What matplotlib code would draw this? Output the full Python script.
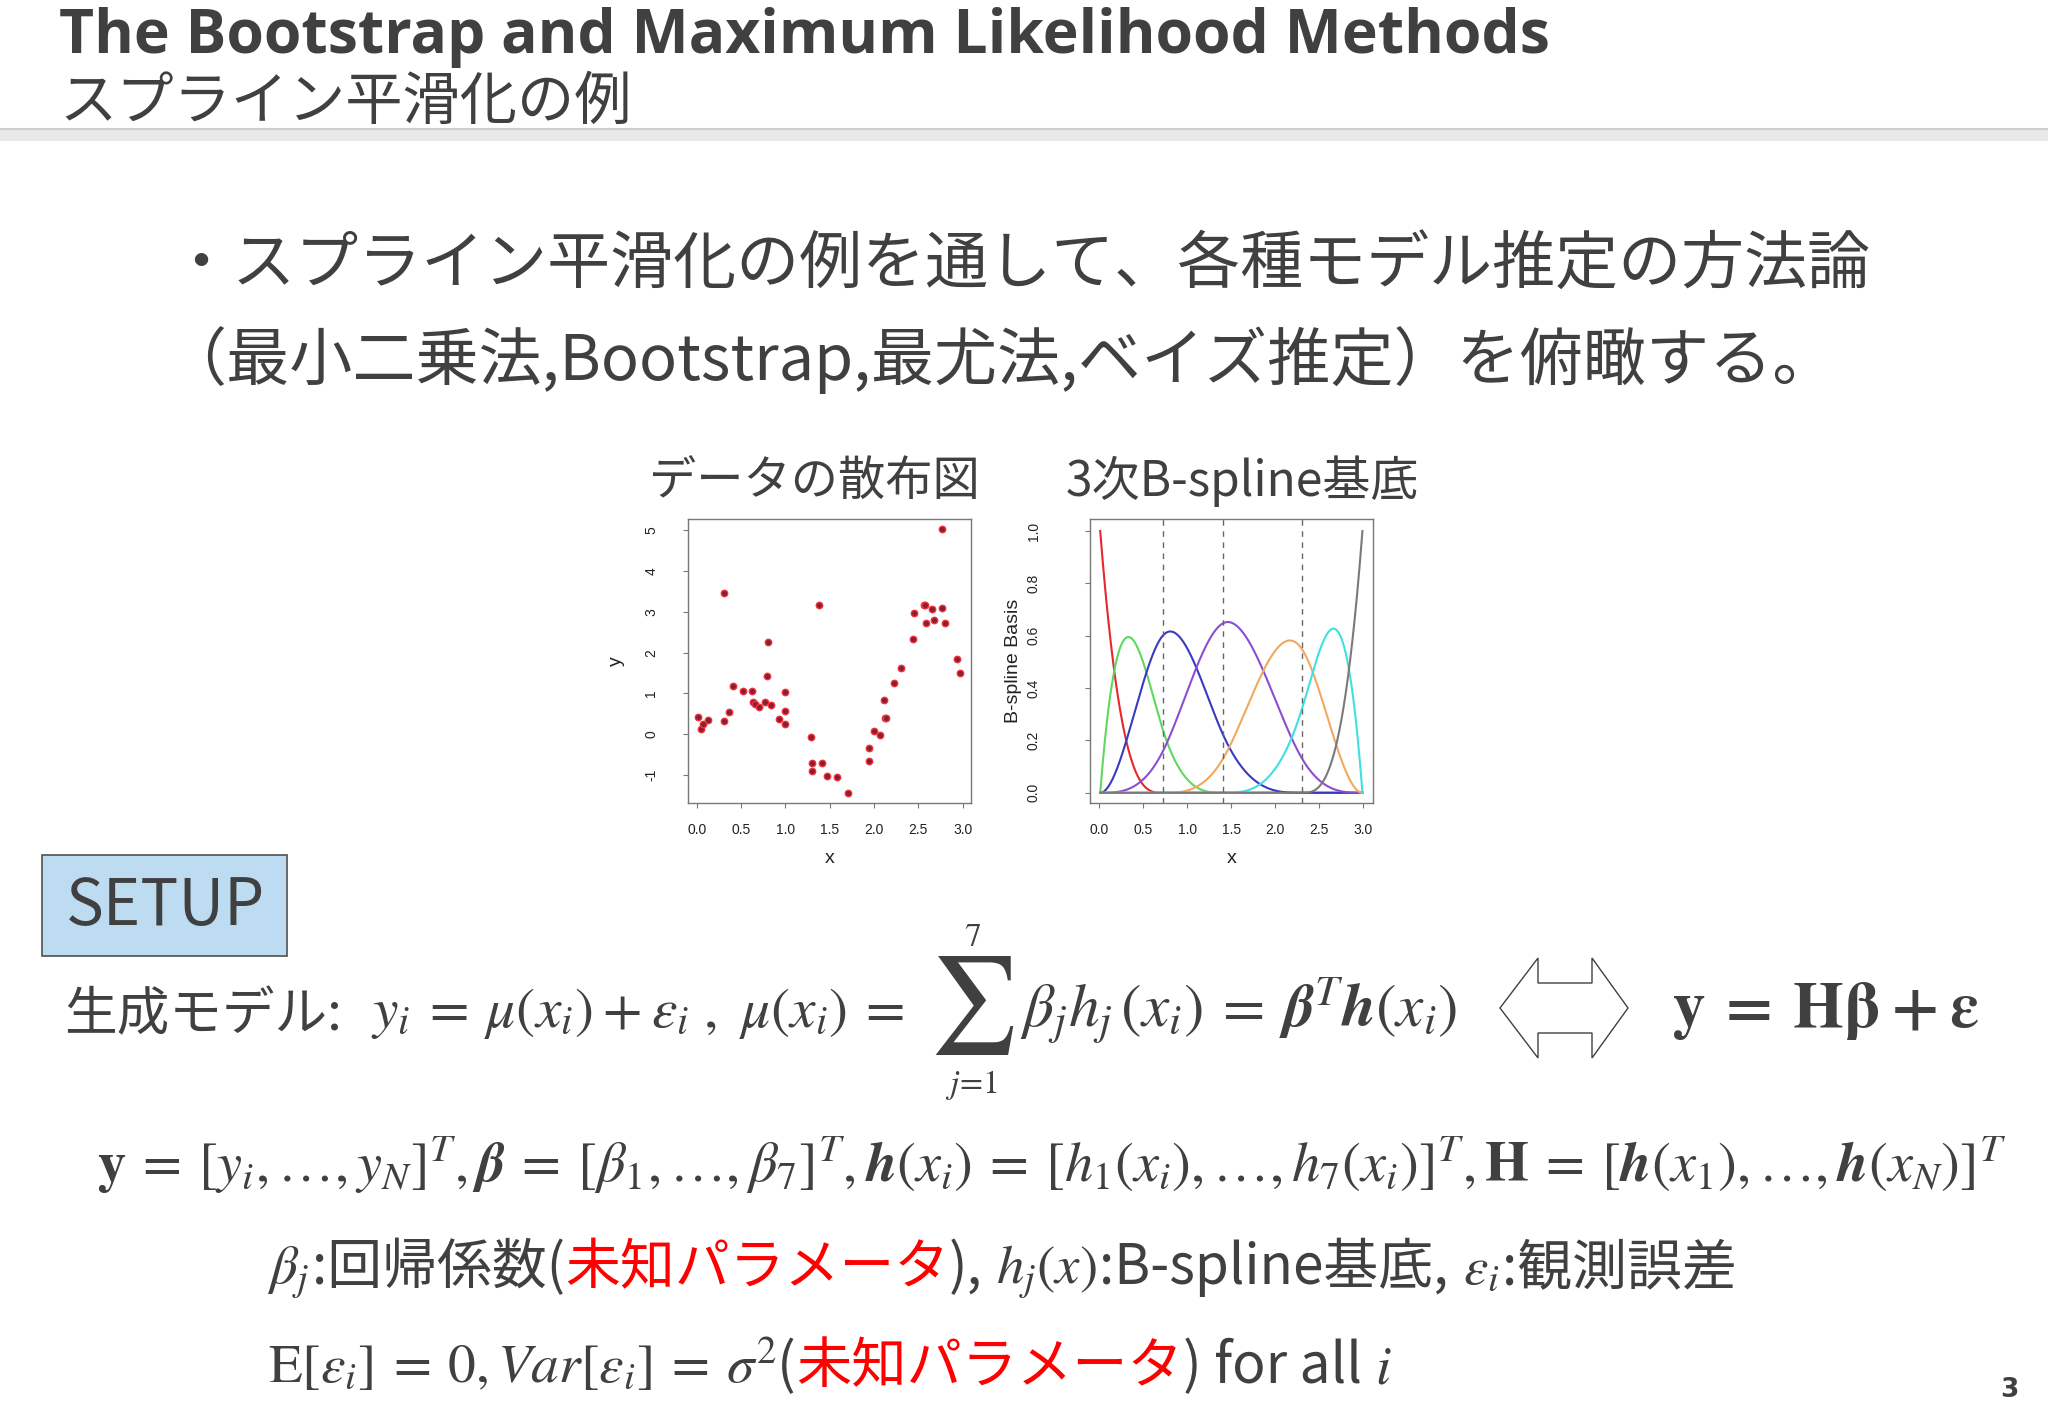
import numpy as np
import matplotlib
matplotlib.use("Agg")
import matplotlib.pyplot as plt
from matplotlib.patches import Rectangle, Polygon

plt.rcParams['mathtext.fontset'] = 'stix'
JP = ['Noto Sans CJK JP', 'DejaVu Sans']
GRAY = '#404040'
RED = '#ff0000'

# scatter data
x_data = [0.01, 0.045, 0.075, 0.13, 0.31, 0.31, 0.36, 0.41, 0.52, 0.62,
          0.64, 0.66, 0.70, 0.77, 0.79, 0.80, 0.84, 0.93, 1.00, 1.00,
          1.00, 1.29, 1.30, 1.30, 1.38, 1.41, 1.47, 1.58, 1.71, 1.94,
          1.94, 2.00, 2.07, 2.11, 2.12, 2.13, 2.22, 2.30, 2.44, 2.45,
          2.56, 2.58, 2.59, 2.65, 2.68, 2.77, 2.77, 2.80, 2.94, 2.97]
y_data = [0.42, 0.12, 0.25, 0.36, 3.46, 0.33, 0.54, 1.18, 1.07, 1.05,
          0.78, 0.74, 0.68, 0.78, 1.44, 2.27, 0.73, 0.38, 0.57, 1.03,
          0.25, -0.07, -0.69, -0.89, 3.16, -0.69, -1.01, -1.05, -1.43, -0.66,
          -0.34, 0.07, -0.02, 0.83, 0.39, 0.40, 1.25, 1.62, 2.34, 2.96,
          3.16, 3.16, 2.72, 3.06, 2.79, 5.02, 3.08, 2.72, 1.84, 1.49]

# cubic B-spline basis (right panel): boundary + interior knots
bs_range = [0.01, 2.99]
bs_knots = [0.72, 1.41, 2.30]
bs_colors = ['#e8262e', '#5fd85f', '#3a3ac0', '#8a4fd0', '#f2a860', '#3fe0e0', '#7a7a7a']

x_ticks = [0.0, 0.5, 1.0, 1.5, 2.0, 2.5, 3.0]
y_ticks_scatter = [-1, 0, 1, 2, 3, 4, 5]
y_ticks_basis = [0.0, 0.2, 0.4, 0.6, 0.8, 1.0]

W, H = 2048, 1418
fig = plt.figure(figsize=(W / 100, H / 100), dpi=100)
fig.patch.set_facecolor('white')
R = fig.canvas.get_renderer()


def fx(x):
    return x / W


def fy(y):
    return 1 - y / H


def fit(t, width):
    w = t.get_window_extent(R).width
    t.set_fontsize(t.get_fontsize() * width / w)
    return t


def run(x, y, pieces, size, target=None):
    def place(sz):
        xs = x
        out = []
        for s, c, gap in pieces:
            t = fig.text(fx(xs), fy(y), s, fontsize=sz, color=c, family=JP,
                         va='baseline', ha='left')
            out.append(t)
            xs = t.get_window_extent(R).x1 + gap * sz / size
        return out, xs
    texts, end = place(size)
    if target is not None:
        for t in texts:
            t.remove()
        texts, end = place(size * (target - x) / (end - x))
    return texts


def basis(t, inner, lo, hi, deg=3):
    kn = np.r_[[lo] * (deg + 1), inner, [hi] * (deg + 1)]
    B = np.zeros((len(t), len(kn) - 1))
    for i in range(len(kn) - 1):
        B[:, i] = (t >= kn[i]) & (t < kn[i + 1])
    last = np.where(kn < kn[-1])[0][-1]
    B[t >= kn[-1], last] = 1.0
    for d in range(1, deg + 1):
        Bn = np.zeros((len(t), len(kn) - 1 - d))
        for i in range(len(kn) - 1 - d):
            a = kn[i + d] - kn[i]
            b = kn[i + d + 1] - kn[i + 1]
            left = (t - kn[i]) / a * B[:, i] if a > 0 else 0
            right = (kn[i + d + 1] - t) / b * B[:, i + 1] if b > 0 else 0
            Bn[:, i] = left + right
        B = Bn
    return B


# ---- header ----
t = fig.text(fx(59), fy(53), 'The Bootstrap and Maximum Likelihood Methods',
             fontsize=42, fontweight='bold', color=GRAY, family=['Open Sans', 'DejaVu Sans'],
             va='baseline')
fit(t, 1491)
t = fig.text(fx(59), fy(119), 'スプライン平滑化の例', fontsize=40, color=GRAY, family=JP, va='baseline')
fit(t, 572)
fig.add_artist(Rectangle((0, fy(141)), 1, (141 - 129) / H, transform=fig.transFigure,
                         fc='#e9e9e9', ec='none'))
fig.add_artist(plt.Line2D([0, 1], [fy(129), fy(129)], transform=fig.transFigure,
                          color='#cfcfcf', lw=1.5))

# ---- bullets ----
t = fig.text(fx(169), fy(283), '・スプライン平滑化の例を通して、各種モデル推定の方法論',
             fontsize=45, color=GRAY, family=JP, va='baseline')
fit(t, 1870 - 169)
t = fig.text(fx(163), fy(380), '（最小二乗法,Bootstrap,最尤法,ベイズ推定）を俯瞰する。',
             fontsize=45, color=GRAY, family=JP, va='baseline')
fit(t, 1835 - 163)

# ---- panel titles ----
t = fig.text(fx(649), fy(496), 'データの散布図', fontsize=34, color=GRAY, family=JP, va='baseline')
fit(t, 331)
t = fig.text(fx(1066), fy(496), '3次B-spline基底', fontsize=34, color=GRAY, family=JP, va='baseline')
fit(t, 354)


def r_style(ax, ypad, ylab_x):
    for s in ax.spines.values():
        s.set_color('#777777')
        s.set_linewidth(1.0)
    ax.tick_params(axis='both', direction='out', length=3.5, width=0.8,
                   colors='#777777', labelcolor='#222222', labelsize=10)
    ax.tick_params(axis='x', pad=11)
    ax.tick_params(axis='y', pad=ypad)
    for lab in ax.get_yticklabels():
        lab.set_rotation(90)
        lab.set_va('center')
    ax.xaxis.label.set_fontsize(14)
    ax.yaxis.label.set_fontsize(14)
    ax.xaxis.label.set_color('#222222')
    ax.yaxis.label.set_color('#222222')
    ax.xaxis.set_label_coords(0.5, -0.194)
    ax.yaxis.set_label_coords(ylab_x, 0.5)
    ax.xaxis.label.set_va('center')
    ax.yaxis.label.set_va('center')


ax1 = fig.add_axes([fx(688), fy(803), 283 / W, 284 / H])
ax1.plot(x_data, y_data, 'o', ms=4.6, mfc='#8a1f2c', mec='#f0303c', mew=1.0)
ax1.set_xlim(-0.098, 3.094)
ax1.set_ylim(-1.68, 5.27)
ax1.set_xticks(x_ticks)
ax1.set_xticklabels([f'{v:.1f}' for v in x_ticks], family='Liberation Sans')
ax1.set_yticks(y_ticks_scatter)
ax1.set_yticklabels([str(v) for v in y_ticks_scatter], family='Liberation Sans')
ax1.set_xlabel('x', family='Liberation Sans')
ax1.set_ylabel('y', family='Liberation Sans')
r_style(ax1, 18, -0.252)

ax2 = fig.add_axes([fx(1090), fy(803), 283 / W, 284 / H])
grid = np.linspace(bs_range[0], bs_range[1], 600)
Bm = basis(grid, bs_knots, bs_range[0], bs_range[1])
for j in range(Bm.shape[1]):
    ax2.plot(grid, Bm[:, j], color=bs_colors[j], lw=1.5)
for k in bs_knots:
    ax2.axvline(k, color='#666666', lw=1.0, ls=(0, (4, 4)))
ax2.set_xlim(-0.106, 3.11)
ax2.set_ylim(-0.039, 1.046)
ax2.set_xticks(x_ticks)
ax2.set_xticklabels([f'{v:.1f}' for v in x_ticks], family='Liberation Sans')
ax2.set_yticks(y_ticks_basis)
ax2.set_yticklabels([f'{v:.1f}' for v in y_ticks_basis], family='Liberation Sans')
ax2.set_xlabel('x', family='Liberation Sans')
ax2.set_ylabel('B-spline Basis', family='Liberation Sans')
r_style(ax2, 32, -0.27)

# ---- SETUP box ----
fig.add_artist(Rectangle((fx(42), fy(956)), 245 / W, 101 / H, transform=fig.transFigure,
                         fc='#bddcf1', ec='#505050', lw=1.2))
t = fig.text(fx(66), fy(925), 'SETUP', fontsize=44, color=GRAY, family=JP, va='baseline')
fit(t, 265 - 66)

# ---- model line ----
t = fig.text(fx(64), fy(1030), '生成モデル:', fontsize=38, color=GRAY, family=JP, va='baseline')
fit(t, 342 - 64)
t = fig.text(fx(371), fy(1027),
             r'$y_i \:=\: \mu(x_i) \:+\: \varepsilon_i\ ,\ \mu(x_i) \:=$',
             fontsize=38, color=GRAY, va='baseline')
fit(t, 904 - 371)
t = fig.text(fx(972), fy(1005), r'$\sum$', fontsize=70, color=GRAY, ha='center', va='center')
fig.text(fx(972), fy(937), r'$7$', fontsize=24, color=GRAY, ha='center', va='center')
fig.text(fx(972), fy(1085), r'$j\!=\!1$', fontsize=24, color=GRAY, ha='center', va='center')
t = fig.text(fx(1020), fy(1027),
             r'$\beta_j h_j\,(x_i) \:=\: \boldsymbol{\beta}^T \boldsymbol{h}(x_i)$',
             fontsize=38, color=GRAY, va='baseline')
fit(t, 1458 - 1020)

arrow_pts = [(1500, 1008), (1538, 958), (1538, 983), (1592, 983), (1592, 958),
             (1628, 1008), (1592, 1058), (1592, 1033), (1538, 1033), (1538, 1058)]
fig.add_artist(Polygon([(fx(a), fy(b)) for a, b in arrow_pts], closed=True,
                       transform=fig.transFigure, fc='white', ec=GRAY, lw=1.0))
t = fig.text(fx(1672), fy(1027),
             r'$\mathbf{y} \:\mathbf{=}\: \mathbf{H}\mathbf{\beta} \:\mathbf{+}\: \mathbf{\varepsilon}$',
             fontsize=40, color=GRAY, va='baseline')
fit(t, 1979 - 1672)

# ---- vector definitions ----
t = fig.text(fx(97), fy(1182),
             r'$\mathbf{y} \:=\: [y_i, \ldots, y_N]^T, \boldsymbol{\beta} \:=\: [\beta_1, \ldots, \beta_7]^T, '
             r'\boldsymbol{h}(x_i) \:=\: [h_1(x_i), \ldots, h_7(x_i)]^T, '
             r'\mathbf{H} \:=\: [\boldsymbol{h}(x_1), \ldots, \boldsymbol{h}(x_N)]^T$',
             fontsize=36, color=GRAY, va='baseline')
fit(t, 2007 - 97)

run(267, 1284, [
    (r'$\beta_j$', GRAY, 2),
    (':回帰係数(', GRAY, 0),
    ('未知パラメータ', RED, 0),
    ('),', GRAY, 12),
    (r'$h_j(x)$', GRAY, 2),
    (':B-spline基底,', GRAY, 14),
    (r'$\varepsilon_i$', GRAY, 2),
    (':観測誤差', GRAY, 0),
], 37, target=1737)

run(268, 1383, [
    (r'$\mathrm{E}[\varepsilon_i] \:=\: 0, Var[\varepsilon_i] \:=\: \sigma^2$', GRAY, 0),
    ('(', GRAY, 0),
    ('未知パラメータ', RED, 0),
    (') for all', GRAY, 12),
    (r'$i$', GRAY, 0),
], 37, target=1391)

fig.text(fx(2000), fy(1397), '3', fontsize=19, fontweight='bold', color=GRAY,
         family='DejaVu Sans', va='baseline')

fig.savefig('out.png', dpi=100, facecolor='white')
